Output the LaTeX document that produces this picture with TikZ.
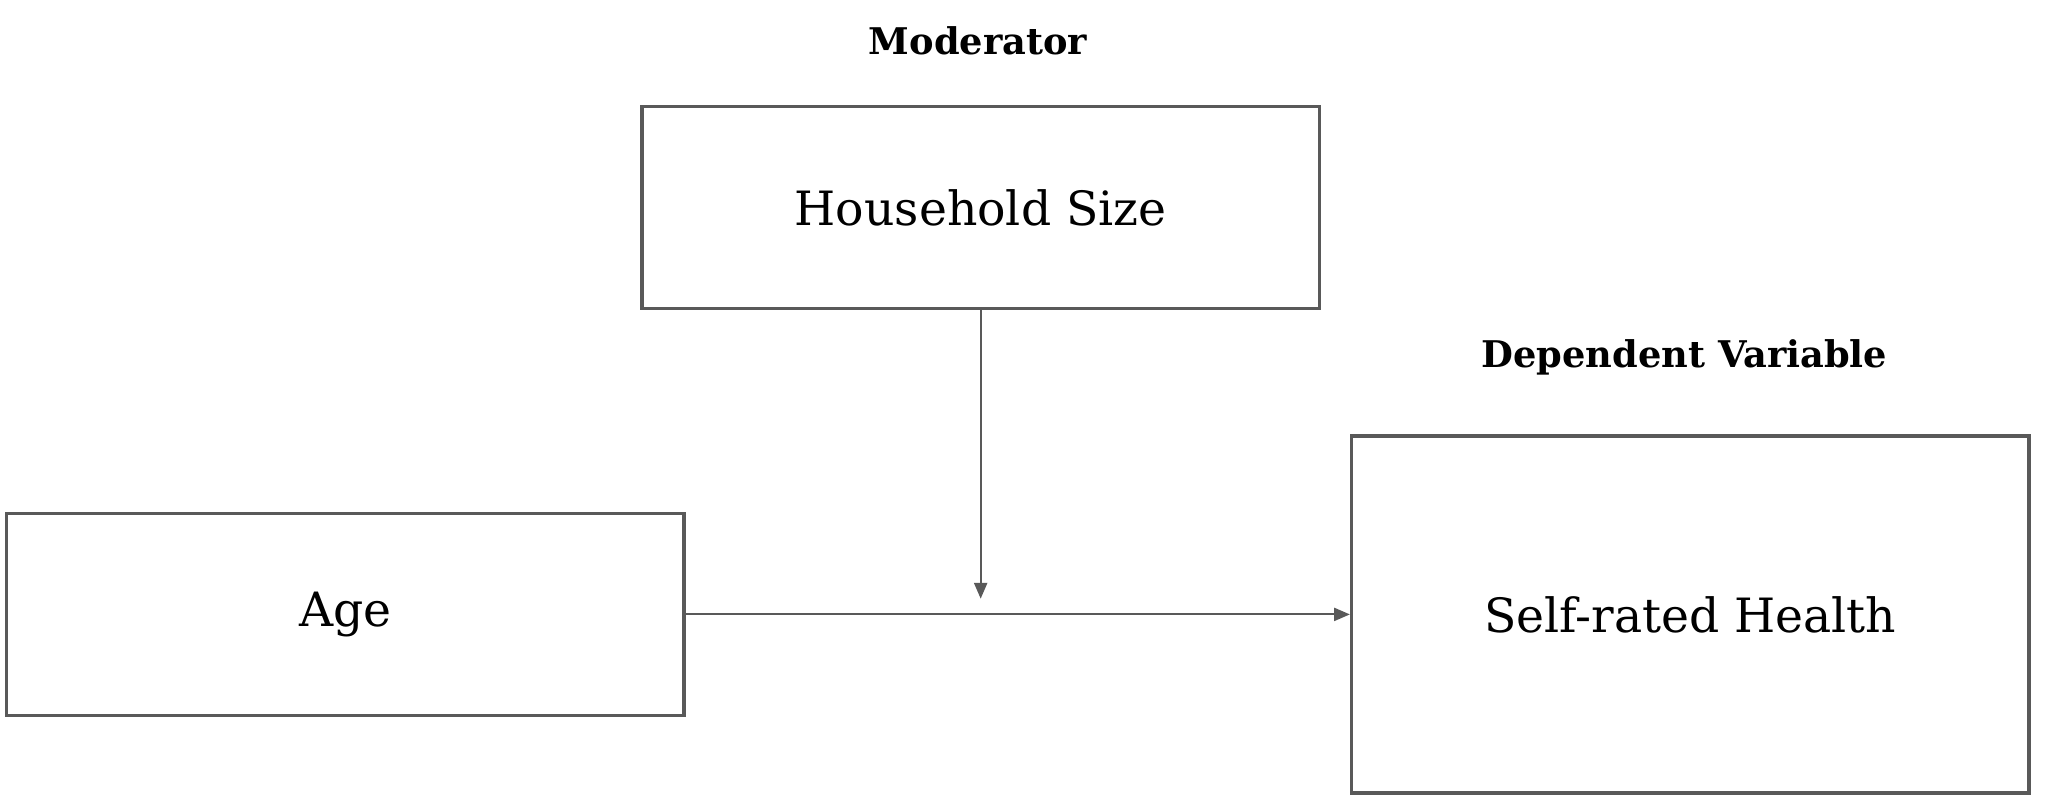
\documentclass[tikz,border=0pt]{standalone}
\usepackage{fontspec}
\setmainfont{DejaVu Serif}
\usetikzlibrary{arrows.meta}
\definecolor{ln}{HTML}{595959}
\begin{document}
\begin{tikzpicture}[x=0.5pt,y=-0.5pt,
  box/.style={draw=ln,line width=1.3pt,minimum width=258pt,minimum height=77pt,inner sep=0pt,font=\fontsize{18}{22}\selectfont},
  lbl/.style={font=\bfseries\fontsize{14}{17}\selectfont},
  conn/.style={draw=ln,line width=0.7pt,-{Triangle[length=6pt,width=5pt]}}]
\useasboundingbox (0,0) rectangle (1560,616);
\node[box] (hh) at (747,158) {Household Size};
\node[box] (age) at (263,468) {Age};
\node[box,minimum height=136pt] (srh) at (1287.5,468) {Self-rated Health};
\node[lbl] (mod) at (745,31) {Moderator};
\node[lbl] (dv) at (1283,272) {Dependent Variable};
\coordinate (tip) at (747,456);
\draw[conn] (hh.south) -- (tip);
\draw[conn] (age.east) -- (srh.west);
\end{tikzpicture}
\end{document}
